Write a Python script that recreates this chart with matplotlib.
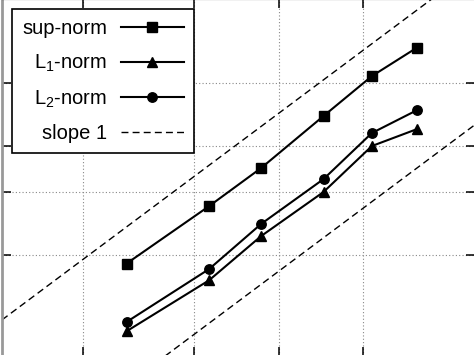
import numpy as np
import matplotlib
matplotlib.use("Agg")
import matplotlib.pyplot as plt
from matplotlib.ticker import FixedLocator, NullLocator, NullFormatter

plt.rcParams['font.family'] = ['Liberation Sans', 'DejaVu Sans']
plt.rcParams['mathtext.fontset'] = 'custom'
plt.rcParams['mathtext.rm'] = 'Liberation Sans'
plt.rcParams['mathtext.it'] = 'Liberation Sans:italic'

# data (log-log, arbitrary units)
h = [2.86, 5.64, 8.65, 14.45, 21.5, 31.2]
err_sup = [2.74, 5.16, 7.85, 13.92, 21.6, 29.6]
err_l1 = [1.30, 2.28, 3.71, 6.03, 10.0, 12.06]
err_l2 = [1.44, 2.58, 4.24, 6.95, 11.54, 14.86]

# reference lines y = c*x
slope_c = [1.435, 0.252]

xticks = [2, 5, 10, 20]
yticks = [3, 6, 10, 20]
xlim = (1.027, 50.2)
ylim = (0.99, 50.5)

W, H = 474, 355
fig = plt.figure(figsize=(W / 100, H / 100), dpi=100)
ax = fig.add_axes([2 / W, -1 / H, 473 / W, 357 / H])

mk = dict(color='black', lw=1.5)
ax.plot(h, err_sup, marker='s', ms=6.8, label='sup-norm', **mk)
ax.plot(h, err_l1, marker='^', ms=6.5, label='L$_1$-norm', **mk)
ax.plot(h, err_l2, marker='o', ms=6.8, label='L$_2$-norm', **mk)

xs = np.array(xlim)
for i, c in enumerate(slope_c):
    ax.plot(xs, c * xs, color='black', lw=1.0, ls=(0, (5, 3)),
            label='slope 1' if i == 0 else None)

ax.set_xscale('log')
ax.set_yscale('log')
ax.set_xlim(*xlim)
ax.set_ylim(*ylim)

ax.xaxis.set_major_locator(FixedLocator(xticks))
ax.yaxis.set_major_locator(FixedLocator(yticks))
for a in (ax.xaxis, ax.yaxis):
    a.set_minor_locator(NullLocator())
    a.set_major_formatter(NullFormatter())
    a.set_minor_formatter(NullFormatter())

ax.tick_params(which='major', direction='in', length=6.5, width=1.1,
               top=True, right=True, color='black')
ax.grid(True, color='#888888', lw=0.8, ls=(0, (1, 2)))

for s in ['top', 'bottom', 'right']:
    ax.spines[s].set_color('black')
ax.spines['left'].set_color('#999999')
ax.spines['left'].set_linewidth(2.0)

leg = ax.legend(loc='upper left', bbox_to_anchor=(12 / W, 1 - 9 / H),
                bbox_transform=fig.transFigure, borderaxespad=0,
                markerfirst=False, fontsize=14.5, frameon=True, fancybox=False,
                handlelength=3.1, handletextpad=0.7, labelspacing=0.72,
                borderpad=0.5)
leg.get_frame().set_edgecolor('black')
leg.get_frame().set_linewidth(1.2)
leg.get_frame().set_alpha(1)

fig.savefig('out.png', dpi=100)
